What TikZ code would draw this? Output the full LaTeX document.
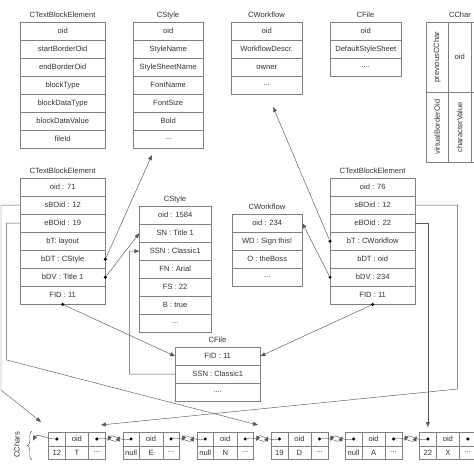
\documentclass[tikz,border=0pt]{standalone}
\usepackage{fontspec}
\setmainfont{Liberation Sans}
\usetikzlibrary{arrows.meta}
\usetikzlibrary{calc}
\usetikzlibrary{decorations.pathreplacing}
\tikzset{
    cell/.style={draw=black!50, fill=white, inner sep=0pt, minimum height=18pt,
        text=black!80, font=\fontsize{7.6}{9}\selectfont},
    ttl/.style={inner sep=0pt, text=black!80, font=\fontsize{7.6}{9}\selectfont, anchor=base},
    ccell/.style={cell, minimum height=13.5pt},
    dot/.style={circle, fill=black, inner sep=0pt, minimum size=3.4pt},
    ptr/.style={draw=black!65, line width=.45pt, -{Triangle[length=5pt,width=4pt]}},
    link/.style={draw=black!65, line width=.45pt},
}
\newcommand{\ddd}{...}
\newcommand{\dddd}{....}
% class table: name, left, top, width, title, rows
\newcommand{\classtab}[6]{%
    \node[ttl] (#1-t) at ({#2+#4/2},{#3-4.3}) {#5};
    \foreach \r [count=\i] in {#6}
        \node[cell, minimum width=#4pt, anchor=north west] (#1-\i) at (#2,{#3+18*(\i-1)}) {\r};
}
% one character of the chain: name, left, border oid, letter
\newcommand{\cchar}[4]{%
    \node[ccell, minimum width=16.7pt, anchor=north west] (#1-p) at (#2,432) {};
    \node[ccell, minimum width=23.3pt, anchor=north west] (#1-o) at ({#2+16.7},432) {oid};
    \node[ccell, minimum width=16.7pt, anchor=north west] (#1-n) at ({#2+40},432) {};
    \node[ccell, minimum width=16.7pt, anchor=north west] (#1-v) at (#2,445.5) {#3};
    \node[ccell, minimum width=23.3pt, anchor=north west] (#1-c) at ({#2+16.7},445.5) {#4};
    \node[ccell, minimum width=16.7pt, anchor=north west] (#1-d) at ({#2+40},445.5) {\ddd};
    \node[dot] (#1-pd) at (#1-p) {};
    \node[dot] (#1-nd) at (#1-n) {};
}

\begin{document}
\begin{tikzpicture}[x=1pt, y=-1pt]
    \path[fill=white] (0,0) rectangle (474,474);
    \useasboundingbox (0,0) rectangle (474,474);

    % schema
    \classtab{tbeS}{20}{22}{85}{CTextBlockElement}{oid,startBorderOid,endBorderOid,blockType,blockDataType,blockDataValue,fileId}
    \classtab{csS}{133}{22}{70}{CStyle}{oid,StyleName,StyleSheetName,FontName,FontSize,Bold,\ddd}
    \classtab{cwS}{231}{22}{71}{CWorkflow}{oid,WorkflowDescr.,owner,\ddd}
    \classtab{cfS}{330}{22}{71}{CFile}{oid,DefaultStyleSheet,\dddd}

    \node[ttl] (ccS-t) at (460,17.7) {CChar};
    \node[cell, minimum width=22pt, minimum height=70pt, anchor=north west] (ccS-1) at (426,22) {};
    \node[cell, minimum width=23pt, minimum height=70pt, anchor=north west] (ccS-2) at (448,22) {oid};
    \node[cell, minimum width=20pt, minimum height=70pt, anchor=north west] (ccS-3) at (471,22) {};
    \node[cell, minimum width=22pt, minimum height=70pt, anchor=north west] (ccS-4) at (426,92) {};
    \node[cell, minimum width=23pt, minimum height=70pt, anchor=north west] (ccS-5) at (448,92) {};
    \node[cell, minimum width=20pt, minimum height=70pt, anchor=north west] (ccS-6) at (471,92) {};
    \node[ttl, anchor=center, rotate=90] (ccS-1l) at (ccS-1) {previousCChar};
    \node[ttl, anchor=center, rotate=90] (ccS-4l) at (ccS-4) {virtualBorderOid};
    \node[ttl, anchor=center, rotate=90] (ccS-5l) at (ccS-5) {characterValue};

    % instances
    \classtab{tbeL}{20}{178}{85}{CTextBlockElement}{oid : 71,sBOid : 12,eBOid : 19,bT: layout,bDT : CStyle,bDV : Title 1,FID : 11}
    \classtab{csI}{139.3}{206}{71.4}{CStyle}{oid : 1584,SN : Title 1,SSN : Classic1,FN : Arial,FS : 22,B : true,\ddd}
    \classtab{cwI}{232}{214}{70}{CWorkflow}{oid : 234,WD : Sign this!,O : theBoss,\ddd}
    \classtab{tbeR}{330}{178}{85}{CTextBlockElement}{oid : 76,sBOid : 12,eBOid : 22,bT : CWorkflow,bDT : oid,bDV : 234,FID : 11}
    \classtab{cf}{175}{347}{85}{CFile}{FID : 11,SSN : Classic1,\dddd}

    % chain of characters
    \cchar{c1}{48.3}{12}{T}
    \cchar{c2}{122.5}{null}{E}
    \cchar{c3}{196.7}{null}{N}
    \cchar{c4}{270.9}{19}{D}
    \cchar{c5}{345.1}{null}{A}
    \cchar{c6}{419.3}{22}{X}
    \draw[link, decorate, decoration={brace, amplitude=4.5pt}] (32,460) -- (32,431);
    \node[ttl, anchor=center, rotate=90] (cchars) at (17,445) {CChars};

    \foreach \i [evaluate=\i as \j using int(\i+1)] in {1,...,5} {
        \draw[ptr] (c\i-nd) to[out=15, in=-115] ([xshift=-2.7pt,yshift=2.7pt]c\j-p.west);
        \draw[ptr] (c\j-pd) to[out=195, in=65] ([xshift=2.3pt,yshift=-2pt]c\i-n.east);
    }
    \coordinate (c0tip) at (33,440.7);
    \draw[ptr] (c1-pd) to[out=180, in=65] (c0tip);

    % dots
    \node[dot] (dL5) at (tbeL-5.east) {};
    \node[dot] (dL6) at (tbeL-6.east) {};
    \node[dot] (dL7) at (tbeL-7.south) {};
    \node[dot] (dR4) at (tbeR-4.west) {};
    \node[dot] (dR6) at (tbeR-6.west) {};
    \node[dot] (dR7) at (tbeR-7.south) {};

    % references
    \coordinate (csTip) at (152,155);
    \coordinate (cwTip) at (273,107);
    \draw[ptr] (dL5) -- (csTip);
    \draw[ptr] (dL6) -- (csI-2.west);
    \draw[ptr] (dL7) -- (cf-1.west);
    \draw[ptr] (dR7) -- (cf-1.east);
    \draw[ptr] (dR4) -- (cwTip);
    \draw[ptr] (dR6) -- (cwI-1.east);

    \coordinate (ssnBend) at (129.3,251);
    \draw[ptr] (cf-2.west) -| (ssnBend) -- (csI-3.west);

    % border oids
    \coordinate (sbL) at (1,390);
    \coordinate (sbLtip) at (41,422);
    \draw[ptr] (tbeL-2.west) -| (sbL) -- (sbLtip);
    \coordinate (ebL) at (6.7,360);
    \coordinate (ebLtip) at (258,425);
    \draw[ptr] (tbeL-3.west) -| (ebL) -- (ebLtip);
    \coordinate (sbR) at (457.7,389);
    \coordinate (sbRtip) at (101,425);
    \draw[ptr] (tbeR-2.east) -| (sbR) -- (sbRtip);
    \draw[ptr, shorten >=5pt] (tbeR-3.east) -| (c6-p.north);
\end{tikzpicture}
\end{document}
